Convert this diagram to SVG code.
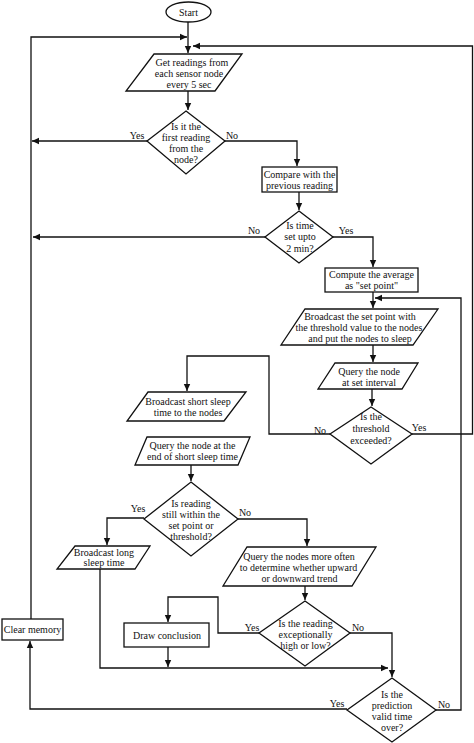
<svg xmlns="http://www.w3.org/2000/svg" width="474" height="743" viewBox="0 0 474 743">
<style>
.s{fill:#fff;stroke:#111;stroke-width:1.3}
.c{fill:none;stroke:#111;stroke-width:1.3}
text{font-family:"Liberation Serif","Times New Roman",serif;font-size:10px;fill:#111;text-anchor:middle}
</style>
<defs>
<marker id="a" markerWidth="8" markerHeight="8" refX="7" refY="4" orient="auto" markerUnits="userSpaceOnUse"><path d="M0,0.8 L7,4 L0,7.2 z" fill="#111"/></marker>
</defs>
<rect width="474" height="743" fill="#fff"/>
<g id="connectors">
<path class="c" d="M188,22 V53" marker-end="url(#a)"/>
<path class="c" d="M31,619 V37 H187" marker-end="url(#a)"/>
<path class="c" d="M412,434 H472.5 V46 H193" marker-end="url(#a)"/>
<path class="c" d="M188,91 V110" marker-end="url(#a)"/>
<path class="c" d="M147,141 H32" marker-end="url(#a)"/>
<path class="c" d="M225,141 H297 V166" marker-end="url(#a)"/>
<path class="c" d="M299,192 V210" marker-end="url(#a)"/>
<path class="c" d="M265,237 H33" marker-end="url(#a)"/>
<path class="c" d="M333,237 H373 V267" marker-end="url(#a)"/>
<path class="c" d="M373,292 V308" marker-end="url(#a)"/>
<path class="c" d="M436,710 H461 V298 H375" marker-end="url(#a)"/>
<path class="c" d="M373,345 V362" marker-end="url(#a)"/>
<path class="c" d="M372,389 V406" marker-end="url(#a)"/>
<path class="c" d="M330,434 H269 V356 H187 V391" marker-end="url(#a)"/>
<path class="c" d="M191,465 V481" marker-end="url(#a)"/>
<path class="c" d="M144,518 H107 V545" marker-end="url(#a)"/>
<path class="c" d="M238,519 H307 V546" marker-end="url(#a)"/>
<path class="c" d="M305,586 V600" marker-end="url(#a)"/>
<path class="c" d="M259,633 H218 V597 H168 V622" marker-end="url(#a)"/>
<path class="c" d="M350,633 H392 V677" marker-end="url(#a)"/>
<path class="c" d="M168,647 V667" marker-end="url(#a)"/>
<path class="c" d="M100,569 V668 H388" marker-end="url(#a)"/>
<path class="c" d="M347,709 H30 V641" marker-end="url(#a)"/>
</g>
<g id="labels">
<text x="137" y="139">Yes</text>
<text x="232" y="139">No</text>
<text x="254" y="234">No</text>
<text x="346" y="234">Yes</text>
<text x="320" y="434">No</text>
<text x="419" y="431">Yes</text>
<text x="138" y="512">Yes</text>
<text x="245" y="516">No</text>
<text x="252" y="631">Yes</text>
<text x="358" y="631">No</text>
<text x="337" y="707">Yes</text>
<text x="444" y="708">No</text>
</g>
<g id="start">
<ellipse class="s" cx="188.5" cy="12" rx="22.5" ry="10"/>
<text x="188.5" y="15.5">Start</text>
</g>
<g id="get-readings">
<polygon class="s" points="154,54 242,54 215,91 126,91"/>
<text><tspan x="192" y="65.5">Get readings from</tspan><tspan x="189" y="76.5">each sensor node</tspan><tspan x="189" y="87.5">every 5 sec</tspan></text>
</g>
<g id="first-reading">
<polygon class="s" points="186,111 225,141 186,174 147,141"/>
<text><tspan x="186" y="130">Is it the</tspan><tspan x="186" y="141">first reading</tspan><tspan x="186" y="152">from the</tspan><tspan x="186" y="163">node?</tspan></text>
</g>
<g id="compare">
<rect class="s" x="262" y="167" width="75" height="25"/>
<text><tspan x="299.5" y="177.5">Compare with the</tspan><tspan x="299.5" y="188.5">previous reading</tspan></text>
</g>
<g id="time-2min">
<polygon class="s" points="299,211 333,237 299,263 265,237"/>
<text><tspan x="300" y="228.5">Is time</tspan><tspan x="300" y="240">set upto</tspan><tspan x="300" y="251.5">2 min?</tspan></text>
</g>
<g id="compute-average">
<rect class="s" x="325" y="268" width="93" height="24"/>
<text><tspan x="371.5" y="277.5">Compute the average</tspan><tspan x="371.5" y="288.5">as "set point"</tspan></text>
</g>
<g id="broadcast-setpoint">
<polygon class="s" points="305,309 438,309 413,345 281,345"/>
<text><tspan x="360" y="319.5">Broadcast the set point with</tspan><tspan x="359" y="330.5">the threshold value to the nodes</tspan><tspan x="360" y="341.5">and put the nodes to sleep</tspan></text>
</g>
<g id="query-interval">
<polygon class="s" points="335,363 418,363 402,389 318,389"/>
<text><tspan x="369" y="374.5">Query the node</tspan><tspan x="369" y="385.5">at set interval</tspan></text>
</g>
<g id="threshold-exceeded">
<polygon class="s" points="371,407 412,434 371,464 330,434"/>
<text><tspan x="371" y="420">Is the</tspan><tspan x="371" y="432">threshold</tspan><tspan x="371" y="443.5">exceeded?</tspan></text>
</g>
<g id="broadcast-short">
<polygon class="s" points="148,392 246,392 224,421 127,421"/>
<text><tspan x="188" y="404.5">Broadcast short sleep</tspan><tspan x="188" y="415.5">time to the nodes</tspan></text>
</g>
<g id="query-end">
<polygon class="s" points="147,437 250,437 238,465 135,465"/>
<text><tspan x="192.5" y="448.5">Query the node at the</tspan><tspan x="192.5" y="460">end of short sleep time</tspan></text>
</g>
<g id="within-setpoint">
<polygon class="s" points="191,482 238,519 191,556 144,519"/>
<text><tspan x="191" y="506.5">Is reading</tspan><tspan x="191" y="517.5">still within the</tspan><tspan x="191" y="528.5">set point or</tspan><tspan x="191" y="539.5">threshold?</tspan></text>
</g>
<g id="broadcast-long">
<polygon class="s" points="75,546 150,546 135,569 57,569"/>
<text><tspan x="104" y="555.5">Broadcast long</tspan><tspan x="104" y="566">sleep time</tspan></text>
</g>
<g id="query-often">
<polygon class="s" points="247,547 376,547 352,586 223,586"/>
<text><tspan x="299" y="559.5">Query the nodes more often</tspan><tspan x="298.5" y="570.5">to determine whether upward</tspan><tspan x="299.5" y="581.5">or downward trend</tspan></text>
</g>
<g id="exceptional">
<polygon class="s" points="305,601 350,633 305,666 259,633"/>
<text><tspan x="305.5" y="626.5">Is the reading</tspan><tspan x="305.5" y="637.5">exceptionally</tspan><tspan x="305.5" y="648.5">high or low?</tspan></text>
</g>
<g id="draw-conclusion">
<rect class="s" x="124" y="623" width="85" height="24"/>
<text x="167" y="638.5">Draw conclusion</text>
</g>
<g id="prediction-valid">
<polygon class="s" points="392,678 436,710 392,742 347,710"/>
<text><tspan x="392" y="697.5">Is the</tspan><tspan x="392" y="708.5">prediction</tspan><tspan x="392" y="719.5">valid time</tspan><tspan x="392" y="730.5">over?</tspan></text>
</g>
<g id="clear-memory">
<rect class="s" x="2" y="619" width="61" height="21"/>
<text x="32.5" y="633">Clear memory</text>
</g>
</svg>
